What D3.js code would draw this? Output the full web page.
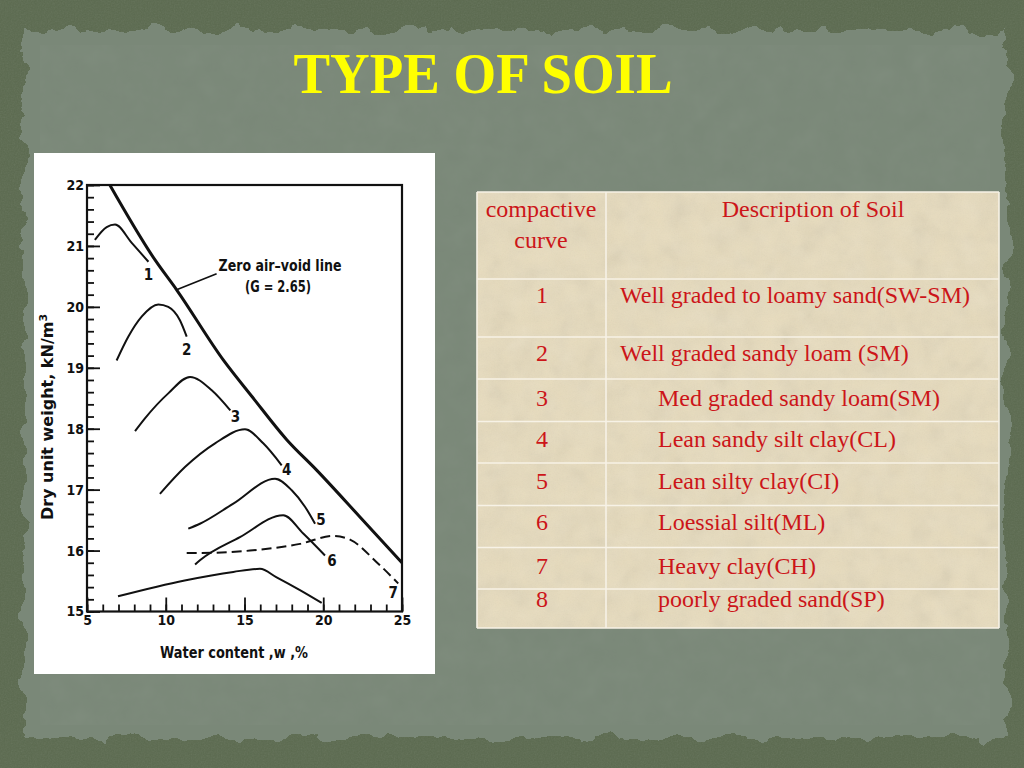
<!DOCTYPE html>
<html>
<head>
<meta charset="utf-8">
<script src="https://cdn.jsdelivr.net/npm/d3@7"></script>
<style>
body{margin:0;background:#5b6a4f;}
svg{display:block;}
</style>
</head>
<body>
<script>
// compaction curves: [water content %, dry unit weight kN/m3]
var zeroAirVoid = [[6.45,22.0],[9.32,20.77],[10.69,20.28],[13.65,19.13],[15.5,18.52],[17.68,17.82],[19.58,17.32],[22.3,16.56],[25,15.8]];
var curve1 = [[5.5,21.1],[6.25,21.31],[6.78,21.35],[7.84,21.05],[8.9,20.74]];
var curve2 = [[6.88,19.12],[7.62,19.51],[8.47,19.84],[9.53,20.04],[10.16,20.0],[10.9,19.78],[11.33,19.51]];
var curve3 = [[8.05,17.96],[8.68,18.17],[10.16,18.58],[11.54,18.85],[12.92,18.63],[14.1,18.3]];
var curve4 = [[9.63,16.93],[11.22,17.37],[13.13,17.76],[15.03,17.99],[16.19,17.76],[17.36,17.4]];
var curve5 = [[11.43,16.36],[12.17,16.44],[14.29,16.77],[16.94,17.18],[18.0,16.99],[18.84,16.72],[19.48,16.44]];
var curve6 = [[11.86,15.77],[12.17,15.84],[14.71,16.22],[17.46,16.58],[18.73,16.28],[20.11,15.92]];
var curve7 = [[11.33,15.96],[12.17,15.96],[15.35,16.0],[18.52,16.11],[20.64,16.24],[21.7,16.18],[23.39,15.81],[24.76,15.46]];
var curve8 = [[6.97,15.25],[11.2,15.51],[14.29,15.65],[15.98,15.7],[17.04,15.56],[18.52,15.35],[19.9,15.14]];
var curves = [curve1,curve2,curve3,curve4,curve5,curve6,curve7,curve8];
var curveLabels = ["1","2","3","4","5","6","7",""];
var dashedCurve = 6;

var yMajorTicks = [15,16,17,18,19,20,21,22];
var xMajorTicks = [5,10,15,20,25];

// table
var tableHeader = ["compactive","curve","Description of Soil"];
var curveNumbers = ["1","2","3","4","5","6","7","8"];
var soilDescriptions = ["Well graded to loamy sand(SW-SM)","Well graded sandy loam (SM)","Med graded sandy loam(SM)",
  "Lean sandy silt clay(CL)","Lean silty clay(CI)","Loessial silt(ML)","Heavy clay(CH)","poorly graded sand(SP)"];

// layout (pixels)
var labelOffset = [[0,18],[0,18],[5,12],[5,10],[6,1],[7,11],[-5,15],[0,0]];
var rowEdges = [192,279,337,379,421.5,463,505.5,547.5,589,628];
var rowBaseline = [303,361,406,447,489,530,574,607];
var descX = [620,620,658,658,658,658,658,658];

var svg = d3.select("body").append("svg").attr("width",1024).attr("height",768);
var defs = svg.append("defs");

var torn = defs.append("filter").attr("id","torn").attr("x","-5%").attr("y","-5%").attr("width","110%").attr("height","110%");
torn.append("feTurbulence").attr("type","fractalNoise").attr("baseFrequency","0.035").attr("numOctaves",4).attr("seed",7).attr("result","n");
torn.append("feDisplacementMap").attr("in","SourceGraphic").attr("in2","n").attr("scale",22).attr("xChannelSelector","R").attr("yChannelSelector","G");

var grain = defs.append("filter").attr("id","grain").attr("x",0).attr("y",0).attr("width","100%").attr("height","100%");
grain.append("feTurbulence").attr("type","fractalNoise").attr("baseFrequency","0.7").attr("numOctaves",2).attr("seed",3);
grain.append("feColorMatrix").attr("type","saturate").attr("values",0);

var blotch = defs.append("filter").attr("id","blotch").attr("x",0).attr("y",0).attr("width","100%").attr("height","100%");
blotch.append("feTurbulence").attr("type","fractalNoise").attr("baseFrequency","0.045").attr("numOctaves",3).attr("seed",11);
blotch.append("feColorMatrix").attr("type","saturate").attr("values",0);

// slide background
svg.append("rect").attr("width",1024).attr("height",768).attr("fill","#5b6a4f");
svg.append("rect").attr("width",1024).attr("height",768).attr("filter","url(#grain)").attr("opacity",0.1);
svg.append("rect").attr("x",24).attr("y",30).attr("width",982).attr("height",708)
  .attr("fill","#7a8878").attr("filter","url(#torn)");
svg.append("rect").attr("x",40).attr("y",45).attr("width",950).attr("height",680)
  .attr("filter","url(#blotch)").attr("opacity",0.05);

svg.append("text").attr("x",483).attr("y",93).attr("text-anchor","middle")
  .attr("font-family","Liberation Serif, Times New Roman, serif").attr("font-weight","bold")
  .attr("font-size",57).attr("fill","#ffff00")
  .attr("textLength",379).attr("lengthAdjust","spacingAndGlyphs")
  .text("TYPE OF SOIL");

// chart panel
svg.append("rect").attr("x",34).attr("y",153).attr("width",401).attr("height",521).attr("fill","#ffffff");

var x = d3.scaleLinear().domain([5,25]).range([87,402]);
var y = d3.scaleLinear().domain([15,22]).range([611.5,185]);
var chartFont = "DejaVu Sans Condensed, Liberation Sans Narrow, Arial Narrow, sans-serif";

var g = svg.append("g").attr("font-family",chartFont).attr("font-weight","bold").attr("fill","#111");

g.append("g").attr("transform","translate(87,0)")
  .call(d3.axisLeft(y).tickValues(d3.range(15,22.001,0.2)).tickSize(-7).tickFormat(""));
g.append("g").attr("transform","translate(87,0)")
  .call(d3.axisLeft(y).tickValues(yMajorTicks).tickSize(-13).tickPadding(3).tickFormat(d3.format("d")));
g.append("g").attr("transform","translate(0,611.5)")
  .call(d3.axisBottom(x).tickValues(d3.range(5,25.001,1)).tickSize(-7).tickFormat(""));
g.append("g").attr("transform","translate(0,611.5)")
  .call(d3.axisBottom(x).tickValues(xMajorTicks).tickSize(-14).tickPadding(4).tickFormat(d3.format("d")));

g.selectAll(".domain").remove();
g.selectAll(".tick line").attr("stroke","#111").attr("stroke-width",1.8);
g.selectAll(".tick text").attr("font-family",chartFont).attr("font-weight","bold").attr("font-size",14).attr("fill","#111");

g.append("rect").attr("x",x(5)).attr("y",y(22)).attr("width",x(25)-x(5)).attr("height",y(15)-y(22))
  .attr("fill","none").attr("stroke","#111").attr("stroke-width",2.2);

var line = d3.line().x(function(d){return x(d[0]);}).y(function(d){return y(d[1]);}).curve(d3.curveMonotoneX);

g.append("path").attr("d",line(zeroAirVoid)).attr("fill","none").attr("stroke","#111").attr("stroke-width",3);

g.selectAll("path.curve").data(curves).enter().append("path")
  .attr("class","curve")
  .attr("d",function(d){return line(d);})
  .attr("fill","none").attr("stroke","#111").attr("stroke-width",2)
  .attr("stroke-dasharray",function(d,i){return i===dashedCurve?"10,5":null;});

g.selectAll("text.clab").data(curves).enter().append("text")
  .attr("class","clab")
  .attr("x",function(d,i){return x(d[d.length-1][0])+labelOffset[i][0];})
  .attr("y",function(d,i){return y(d[d.length-1][1])+labelOffset[i][1];})
  .attr("text-anchor","middle").attr("font-size",15)
  .text(function(d,i){return curveLabels[i];});

// zero air-void annotation
var zavPoint = zeroAirVoid[2];
g.append("line").attr("x1",x(zavPoint[0])).attr("y1",y(zavPoint[1]))
  .attr("x2",x(zavPoint[0])+40).attr("y2",y(zavPoint[1])-16)
  .attr("stroke","#111").attr("stroke-width",1.6);
g.append("text").attr("x",280).attr("y",271).attr("text-anchor","middle").attr("font-size",15)
  .attr("textLength",123).attr("lengthAdjust","spacingAndGlyphs").text("Zero air\u2013void line");
g.append("text").attr("x",278).attr("y",292).attr("text-anchor","middle").attr("font-size",15)
  .attr("textLength",66).attr("lengthAdjust","spacingAndGlyphs").text("(G = 2.65)");

g.append("text").attr("x",234).attr("y",658).attr("text-anchor","middle").attr("font-size",16)
  .attr("textLength",148).attr("lengthAdjust","spacingAndGlyphs").text("Water content ,w ,%");

var yl = g.append("text").attr("transform","translate(53,417) rotate(-90)").attr("text-anchor","middle")
  .attr("font-size",16).attr("font-family","DejaVu Sans, Liberation Sans, sans-serif");
yl.append("tspan").text("Dry unit weight, kN/m");
yl.append("tspan").attr("dy",-6).attr("font-size",11).text("3");

// table
var tableLeft = 477, tableRight = 999, colDivider = 606;
var tg = svg.append("g");
tg.append("rect").attr("x",tableLeft).attr("y",rowEdges[0]).attr("width",tableRight-tableLeft)
  .attr("height",rowEdges[rowEdges.length-1]-rowEdges[0]).attr("fill","#e8dcbd");
tg.append("rect").attr("x",tableLeft).attr("y",rowEdges[0]).attr("width",tableRight-tableLeft)
  .attr("height",rowEdges[rowEdges.length-1]-rowEdges[0]).attr("filter","url(#blotch)").attr("opacity",0.16);
tg.append("rect").attr("x",tableLeft).attr("y",rowEdges[0]).attr("width",tableRight-tableLeft)
  .attr("height",rowEdges[rowEdges.length-1]-rowEdges[0]).attr("filter","url(#grain)").attr("opacity",0.07);

tg.selectAll("line.row").data(rowEdges).enter().append("line").attr("class","row")
  .attr("x1",tableLeft).attr("x2",tableRight)
  .attr("y1",function(d){return d;}).attr("y2",function(d){return d;})
  .attr("stroke","#f7f2e6").attr("stroke-width",1.6);
tg.selectAll("line.col").data([tableLeft,colDivider,tableRight]).enter().append("line").attr("class","col")
  .attr("x1",function(d){return d;}).attr("x2",function(d){return d;})
  .attr("y1",rowEdges[0]).attr("y2",rowEdges[rowEdges.length-1])
  .attr("stroke","#f7f2e6").attr("stroke-width",1.6);

var tf = tg.append("g").attr("font-family","Liberation Serif, Times New Roman, serif").attr("font-size",24).attr("fill","#cc1519");
tf.append("text").attr("x",541).attr("y",217).attr("text-anchor","middle").text(tableHeader[0]);
tf.append("text").attr("x",541).attr("y",248).attr("text-anchor","middle").text(tableHeader[1]);
tf.append("text").attr("x",813).attr("y",217).attr("text-anchor","middle").text(tableHeader[2]);

tf.selectAll("text.num").data(curveNumbers).enter().append("text").attr("class","num")
  .attr("x",542).attr("y",function(d,i){return rowBaseline[i];}).attr("text-anchor","middle")
  .text(function(d){return d;});
tf.selectAll("text.desc").data(soilDescriptions).enter().append("text").attr("class","desc")
  .attr("x",function(d,i){return descX[i];}).attr("y",function(d,i){return rowBaseline[i];})
  .text(function(d){return d;});
</script>
</body>
</html>
